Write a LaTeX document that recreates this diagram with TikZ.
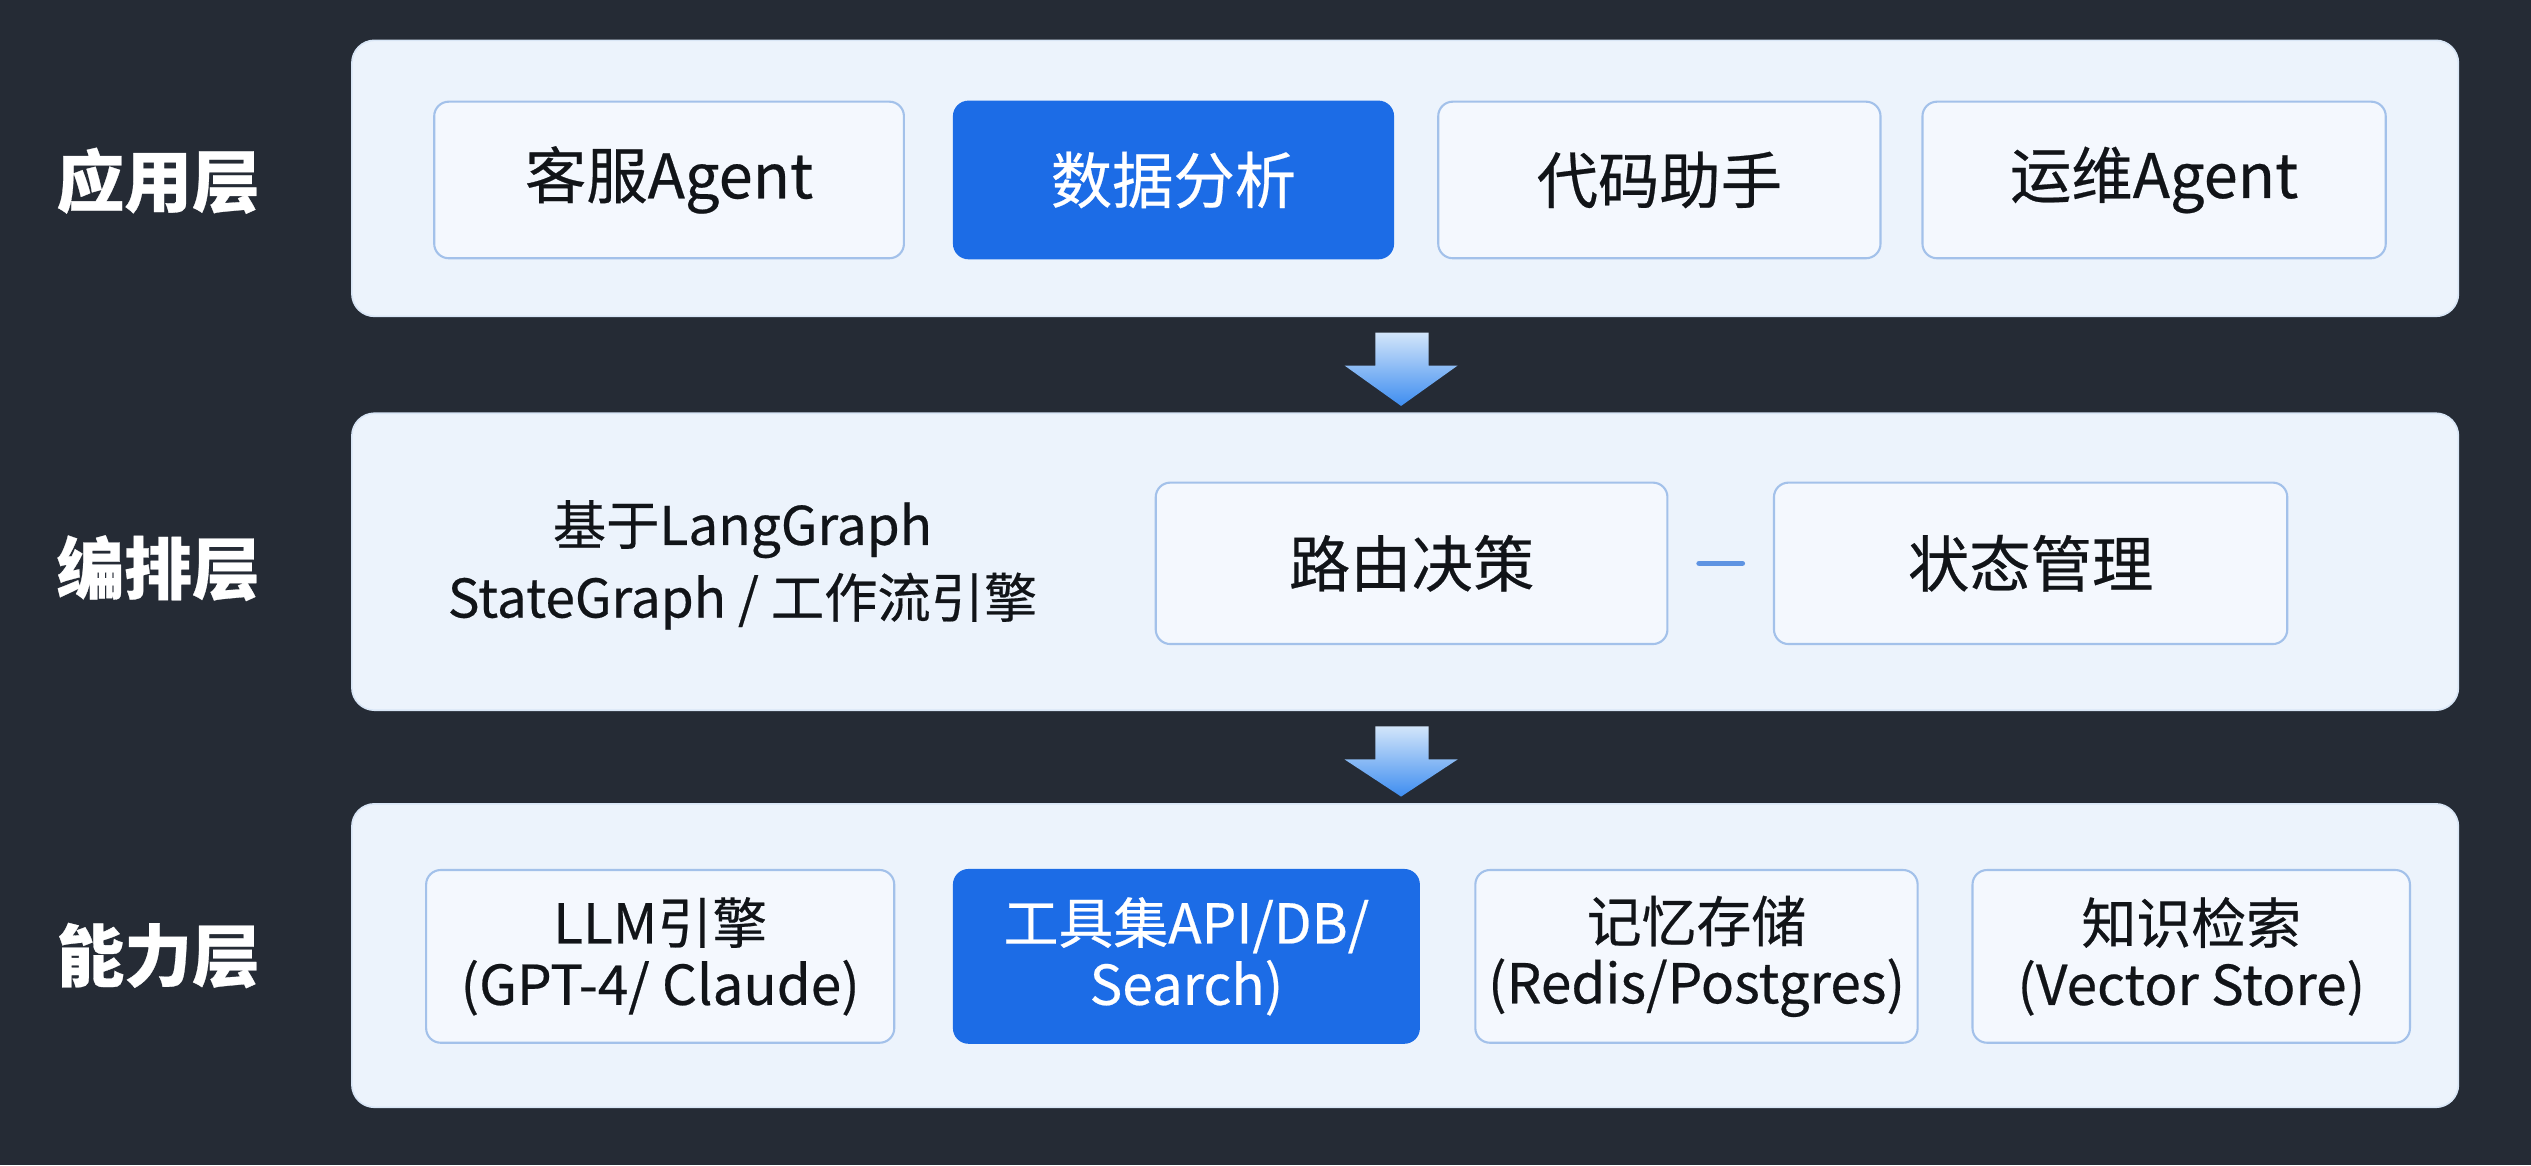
\documentclass[tikz,border=0pt]{standalone}
\usepackage{fontspec}
\setmainfont{Noto Sans CJK SC}[FakeBold=0.4]
\usepackage{tikz}
\usetikzlibrary{calc}
\definecolor{bgc}{HTML}{252B35}
\definecolor{panelc}{HTML}{ECF3FC}
\definecolor{paneld}{HTML}{D9E6F6}
\definecolor{cardc}{HTML}{F4F8FE}
\definecolor{cardd}{HTML}{A3C1EA}
\definecolor{hotc}{HTML}{1C6CE6}
\definecolor{inkc}{HTML}{111418}
\definecolor{dashc}{HTML}{5E93E2}
\definecolor{arrtop}{HTML}{D2E5FA}
\definecolor{arrbot}{HTML}{3E8DF0}
\tikzset{
  panel/.style={draw=paneld,line width=1pt,fill=panelc,rounded corners=14pt,minimum width=1305pt,inner sep=0pt},
  card/.style={draw=cardd,line width=1.3pt,fill=cardc,rounded corners=9pt,inner sep=0pt,align=center,text=inkc,font=\fontsize{34}{38}\selectfont},
  bigcard/.style={card,font=\fontsize{38}{42}\selectfont},
  hot/.style={draw=hotc,fill=hotc,text=white},
  layer/.style={text=white,inner sep=0pt,font=\fontsize{42}{48}\selectfont\bfseries},
  note/.style={align=center,text=inkc,inner sep=0pt,font=\fontsize{33}{45}\selectfont},
  link/.style={draw=dashc,line width=3.5pt,line cap=round},
}
% block arrow from one panel down to the next
\newcommand{\layerarrow}[2]{%
  \shade[top color=arrtop,bottom color=arrbot]
    ($(#1.south)+(-18.5pt,-9.5pt)$) -- ($(#1.south)+(14.5pt,-9.5pt)$) --
    ($(#1.south)+(14.5pt,-30pt)$) -- ($(#1.south)+(32.5pt,-30pt)$) --
    ($(#2.north)+(-2.5pt,4pt)$) --
    ($(#1.south)+(-37.5pt,-30pt)$) -- ($(#1.south)+(-18.5pt,-30pt)$) -- cycle;}

\begin{document}
\begin{tikzpicture}[x=1pt,y=1pt]
  \fill[bgc] (0,0) rectangle (1568,722);
  \useasboundingbox (0,0) rectangle (1568,722);
  % layers
  \node[panel,minimum height=171pt] (app) at (870.5,611.5) {};
  \node[panel,minimum height=184pt] (orch) at (870.5,374) {};
  \node[panel,minimum height=188pt] (cap) at (870.5,130) {};
  \node[layer] (appL) at (98,610) {应用层};
  \node[layer] (orchL) at (98,370) {编排层};
  \node[layer] (capL) at (98,130) {能力层};
  % application row
  \node[bigcard,minimum width=291pt,minimum height=97pt] (kefu) at (414.5,610.5) {客服Agent};
  \node[bigcard,hot,minimum width=272pt,minimum height=97pt] (shuju) at (727,610.5) {数据分析};
  \node[bigcard,minimum width=274pt,minimum height=97pt] (daima) at (1028,610.5) {代码助手};
  \node[bigcard,minimum width=287pt,minimum height=97pt] (yunwei) at (1334.5,610.5) {运维Agent};
  % orchestration row
  \node[note] (engine) at (460,372) {基于LangGraph\\StateGraph / 工作流引擎};
  \node[bigcard,minimum width=317pt,minimum height=100pt] (route) at (874.5,373) {路由决策};
  \node[bigcard,minimum width=318pt,minimum height=100pt] (state) at (1258,373) {状态管理};
  \draw[link] ([xshift=19pt]route.east) -- ([xshift=-19pt]state.west);
  % capability row
  \node[card,minimum width=290pt,minimum height=107pt] (llm) at (409,129.5) {LLM引擎\\(GPT-4/ Claude)};
  \node[card,hot,minimum width=288pt,minimum height=107pt] (tools) at (735,129.5) {工具集API/DB/\\Search)};
  \node[card,minimum width=274pt,minimum height=107pt] (mem) at (1051,129.5) {记忆存储\\(Redis/Postgres)};
  \node[card,minimum width=271pt,minimum height=107pt] (know) at (1357.5,129.5) {知识检索\\(Vector Store)};
  % flow between layers
  \layerarrow{app}{orch}
  \layerarrow{orch}{cap}
\end{tikzpicture}
\end{document}
